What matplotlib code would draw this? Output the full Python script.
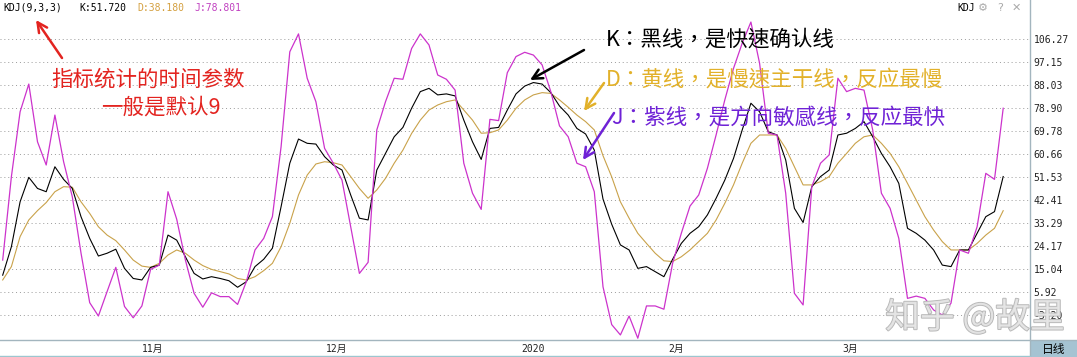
import matplotlib.pyplot as plt
from matplotlib.lines import Line2D
from matplotlib.patches import Rectangle
import matplotlib.patheffects as pe

# KDJ values, one per trading day (Oct 2019 - Mar 2020)
k_vals = [12.6, 23.9, 41.7, 51.4, 47.0, 45.7, 55.6, 50.6, 47.0, 35.8,
          27.2, 20.2, 21.3, 22.9, 15.3, 11.3, 10.7, 15.7, 16.6, 28.5,
          26.5, 19.9, 13.3, 11.1, 12.0, 11.3, 10.4, 7.8, 10.0, 16.0,
          18.9, 23.3, 39.8, 57.0, 66.6, 64.9, 64.6, 59.6, 56.3, 54.3,
          44.4, 35.2, 34.5, 54.3, 60.9, 67.5, 71.2, 78.8, 85.4, 86.7,
          84.1, 84.5, 83.7, 74.1, 65.5, 58.5, 70.8, 71.2, 78.1, 84.5,
          87.6, 89.0, 88.4, 85.0, 79.7, 76.1, 70.8, 68.6, 62.2, 42.8,
          32.8, 24.6, 22.6, 15.3, 16.0, 14.0, 12.0, 18.9, 25.2, 29.2,
          31.8, 36.5, 43.1, 50.3, 58.9, 70.2, 80.8, 77.4, 69.5, 68.2,
          58.3, 39.1, 33.5, 47.7, 51.7, 54.3, 68.2, 68.9, 70.8, 73.5,
          67.5, 60.9, 55.6, 49.0, 31.2, 29.2, 26.5, 22.6, 16.6, 16.0,
          22.6, 22.6, 29.2, 35.8, 37.8, 51.72]
d_vals = [10.7, 16.0, 27.9, 34.5, 38.2, 41.4, 45.7, 47.7, 47.5, 41.7,
          37.1, 31.8, 28.5, 26.3, 22.6, 18.6, 16.2, 15.7, 17.3, 20.6,
          22.6, 21.3, 18.6, 16.4, 14.9, 14.0, 13.1, 11.3, 10.7, 12.0,
          14.4, 17.3, 23.9, 33.2, 44.4, 52.3, 56.7, 57.6, 57.2, 56.3,
          51.7, 47.0, 43.1, 46.4, 51.0, 57.0, 62.2, 68.8, 74.1, 78.1,
          80.1, 81.4, 82.1, 78.1, 74.1, 68.9, 69.1, 70.2, 74.1, 78.8,
          82.1, 84.1, 85.0, 84.7, 82.1, 79.2, 76.1, 73.5, 70.2, 60.0,
          51.6, 41.7, 35.2, 29.2, 25.2, 21.3, 18.3, 18.0, 19.9, 22.6,
          25.9, 29.2, 34.5, 41.1, 48.4, 57.0, 64.9, 68.2, 68.2, 68.2,
          62.9, 55.6, 48.4, 48.4, 49.7, 51.7, 57.0, 60.9, 64.9, 67.5,
          68.2, 64.9, 60.9, 55.6, 49.0, 42.4, 35.8, 30.5, 25.9, 22.6,
          22.6, 22.6, 25.2, 28.5, 31.2, 38.18]
j_vals = [18.6, 51.7, 77.4, 88.4, 65.5, 56.3, 76.1, 57.6, 43.7, 21.4,
          1.7, -3.6, 6.1, 15.7, 0.2, -4.3, 0.4, 14.9, 16.6, 45.7,
          34.8, 18.6, 5.4, -0.1, 5.6, 4.1, 4.1, 1.0, 10.0, 22.6,
          27.2, 35.8, 63.6, 101.2, 108.3, 90.7, 81.4, 62.9, 57.0, 50.3,
          31.8, 13.3, 17.7, 70.2, 81.4, 90.7, 90.3, 102.5, 108.3, 103.9,
          92.0, 90.3, 86.0, 57.0, 45.1, 38.7, 74.4, 73.9, 92.9, 99.3,
          101.0, 99.9, 96.0, 85.4, 71.8, 67.5, 57.0, 55.6, 45.7, 8.0,
          -7.0, -11.1, -3.6, -12.4, 0.4, 0.4, -0.9, 17.3, 29.2, 40.0,
          44.4, 55.0, 68.2, 82.1, 94.6, 104.6, 113.0, 96.6, 68.9, 68.2,
          45.1, 5.4, 0.8, 47.7, 57.0, 60.3, 90.7, 85.4, 86.7, 86.0,
          70.2, 45.1, 39.1, 27.2, 3.4, 4.3, 3.4, -1.2, -3.2, 1.5,
          22.6, 21.3, 31.8, 53.0, 50.6, 78.801]

y_ticks = [106.27, 97.15, 88.03, 78.90, 69.78, 60.66, 51.53, 42.41,
           33.29, 24.17, 15.04, 5.92, -3.20]
month_pos = [17.2, 38.4, 61.0, 77.4, 97.4]
month_labels = ['11月', '12月', '2020', '2月', '3月']

W, H = 1077, 357
MONO = ['DejaVu Sans Mono', 'Noto Sans CJK SC']
CJK = ['Noto Sans CJK SC', 'DejaVu Sans']
CJK_TC = ['Noto Sans CJK TC', 'DejaVu Sans']  # centred full-width punctuation


def fp(x, y):
    # pixel (from top-left) -> figure fraction
    return (x / W, 1 - y / H)


fig = plt.figure(figsize=(W / 100, H / 100), dpi=100)
fig.patch.set_facecolor('white')
ax = fig.add_axes([0, 17 / H, 1030 / W, 340 / H])

x = list(range(len(k_vals)))
ax.plot(x, d_vals, color='#c9a24a', lw=0.8)
ax.plot(x, k_vals, color='black', lw=0.8)
ax.plot(x, j_vals, color='#cc33cc', lw=0.9)

ax.set_xlim(-0.31, 118.08)
ax.set_ylim(-13.11, 121.74)
for s in ax.spines.values():
    s.set_visible(False)
ax.set_xticks([])
ax.yaxis.tick_right()
ax.set_yticks(y_ticks)
ax.set_yticklabels(['%.2f' % v for v in y_ticks], family=MONO, fontsize=7)
ax.tick_params(axis='y', length=0, pad=2.5, colors='#222222')
ax.grid(axis='y', linestyle=(0, (1, 3)), color='#9a9a9a', lw=0.7)

for pos, lab in zip(month_pos, month_labels):
    ax.text(pos, -9 / 340, lab, transform=ax.get_xaxis_transform(),
            ha='center', va='center', fontsize=7, family=MONO,
            color='#222222', clip_on=False)

# frame lines and the bottom-right tab
fig.add_artist(Line2D([1030 / W, 1030 / W], [0, 1], color='#a3b5be', lw=1))
fig.add_artist(Line2D([0, 1], [1 - 340 / H, 1 - 340 / H], color='#a3b5be', lw=1))
fig.add_artist(Line2D([0, 1030 / W], [1 - 356 / H, 1 - 356 / H], color='#9cc6cf', lw=1))
fig.add_artist(Rectangle((1031 / W, 0), 46 / W, 16.5 / H, transform=fig.transFigure,
                         facecolor='#a5c3d2', edgecolor='none'))
fig.text(*fp(1054, 349), '日线', ha='center', va='center', fontsize=8.5,
         family=CJK, color='black')

# header
fig.text(*fp(3, 8), 'KDJ(9,3,3)', ha='left', va='center', fontsize=7, family=MONO)
fig.text(*fp(79, 8), 'K:51.720', ha='left', va='center', fontsize=7, family=MONO)
fig.text(*fp(137, 8), 'D:38.180', ha='left', va='center', fontsize=7, family=MONO,
         color='#d4a040')
fig.text(*fp(194, 8), 'J:78.801', ha='left', va='center', fontsize=7, family=MONO,
         color='#c040c0')
fig.text(*fp(957, 8), 'KDJ', ha='left', va='center', fontsize=7, family=MONO)
fig.text(*fp(983, 8), '⚙', ha='center', va='center', fontsize=8, color='#aaaaaa')
fig.text(*fp(1000, 8), '?', ha='center', va='center', fontsize=8, color='#aaaaaa')
fig.text(*fp(1016, 8), '✕', ha='center', va='center', fontsize=8, color='#aaaaaa')

# annotations
fig.text(*fp(148, 80), '指标统计的时间参数', ha='center', va='center',
         fontsize=15.5, family=CJK, color='#e32420')
fig.text(*fp(161, 108), '一般是默认9', ha='center', va='center',
         fontsize=15.5, family=CJK, color='#e32420')
fig.text(*fp(606, 40), 'K：黑线，是快速确认线', ha='left', va='center',
         fontsize=15.5, family=CJK_TC, color='black')
fig.text(*fp(606, 80), 'D：黄线，是慢速主干线，反应最慢', ha='left', va='center',
         fontsize=15.5, family=CJK_TC, color='#e2b12a')
fig.text(*fp(611, 118), 'J：紫线，是方向敏感线，反应最快', ha='left', va='center',
         fontsize=15.5, family=CJK_TC, color='#6f22d6')

arrows = [((36, 20), (62, 58), '#e32420'),
          ((530, 80), (584, 50), 'black'),
          ((584, 111), (604, 83), '#e2b12a'),
          ((583, 160), (614, 113), '#6f22d6')]
for tip, tail, col in arrows:
    ax.annotate('', xy=fp(*tip), xytext=fp(*tail), xycoords='figure fraction',
                textcoords='figure fraction',
                arrowprops=dict(arrowstyle='->,head_length=0.7,head_width=0.35',
                                color=col, lw=1.8, shrinkA=0, shrinkB=0))

# watermark
fig.text(*fp(975, 318), '知乎 @故里', ha='center', va='center', fontsize=25,
         family=CJK, color='#e6e6e6', alpha=0.9,
         path_effects=[pe.withStroke(linewidth=1.3, foreground='#b0b0b0')])

plt.savefig('out.png', dpi=100)
